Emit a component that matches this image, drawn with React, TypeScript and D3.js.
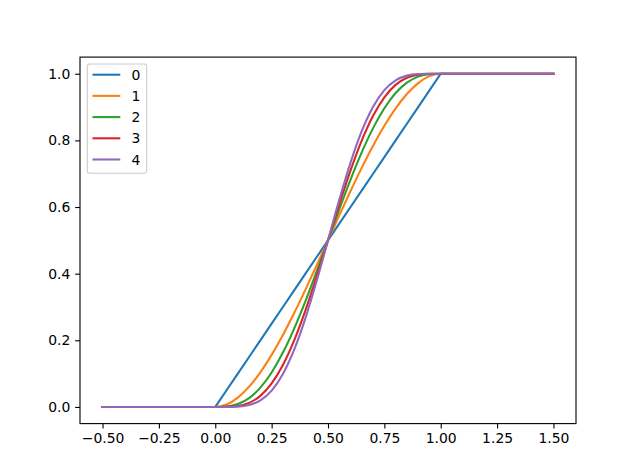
import React, { useEffect, useRef } from "react";
import * as d3 from "d3";

// sample positions along x (flat tails outside [0, 1])
const xs = [-0.5, 0, 0.05, 0.1, 0.15, 0.2, 0.25, 0.3, 0.35, 0.4, 0.45, 0.5, 0.55, 0.6, 0.65, 0.7, 0.75, 0.8, 0.85, 0.9, 0.95, 1, 1.5];

const labels = ["0", "1", "2", "3", "4"];

const s0 = [0, 0, 0.05, 0.1, 0.15, 0.2, 0.25, 0.3, 0.35, 0.4, 0.45, 0.5, 0.55, 0.6, 0.65, 0.7, 0.75, 0.8, 0.85, 0.9, 0.95, 1, 1];
const s1 = [0, 0, 0.0073, 0.028, 0.0608, 0.104, 0.1563, 0.216, 0.2818, 0.352, 0.4253, 0.5, 0.5748, 0.648, 0.7183, 0.784, 0.8438, 0.896, 0.9393, 0.972, 0.9928, 1, 1];
const s2 = [0, 0, 0.0012, 0.0086, 0.0266, 0.0579, 0.1035, 0.1631, 0.2352, 0.3174, 0.4069, 0.5, 0.5931, 0.6826, 0.7648, 0.8369, 0.8965, 0.9421, 0.9734, 0.9914, 0.9988, 1, 1];
const s3 = [0, 0, 0.0002, 0.0027, 0.0121, 0.0333, 0.0706, 0.126, 0.1998, 0.2898, 0.3917, 0.5, 0.6083, 0.7102, 0.8002, 0.874, 0.9294, 0.9667, 0.9879, 0.9973, 0.9998, 1, 1];
const s4 = [0, 0, 0.00003, 0.0009, 0.0056, 0.0196, 0.0489, 0.0988, 0.1717, 0.2666, 0.3786, 0.5, 0.6214, 0.7334, 0.8283, 0.9012, 0.9511, 0.9804, 0.9944, 0.9991, 1, 1, 1];

const series = [s0, s1, s2, s3, s4];
const colors = ["#1f77b4", "#ff7f0e", "#2ca02c", "#d62728", "#9467bd"];

const xTicks = [-0.5, -0.25, 0, 0.25, 0.5, 0.75, 1, 1.25, 1.5];
const yTicks = [0, 0.2, 0.4, 0.6, 0.8, 1.0];

export default function App() {
  const ref = useRef<SVGSVGElement | null>(null);

  useEffect(() => {
    if (!ref.current) return;
    const svg = d3.select(ref.current);
    svg.selectAll("*").remove();

    const width = 640;
    const height = 476;
    const left = 80, right = 576, top = 57.1, bottom = 423.6;

    const x = d3.scaleLinear().domain([-0.6, 1.6]).range([left, right]);
    const y = d3.scaleLinear().domain([-0.05, 1.05]).range([bottom, top]);

    svg.append("rect").attr("width", width).attr("height", height).attr("fill", "white");

    const font = "DejaVu Sans";
    const fs = 13.9;

    // lines
    series.forEach((vals, i) => {
      const pts: [number, number][] = xs.map((xv, j) => [xv, vals[j]]);
      const line = d3
        .line<[number, number]>()
        .x((d) => x(d[0]))
        .y((d) => y(d[1]))
        .curve(i === 0 ? d3.curveLinear : d3.curveMonotoneX);
      svg
        .append("path")
        .attr("d", line(pts))
        .attr("fill", "none")
        .attr("stroke", colors[i])
        .attr("stroke-width", 2.08)
        .attr("stroke-linecap", "square");
    });

    // axes
    const fmtX = (d: number) => d.toFixed(2).replace("-", "\u2212");
    const xAxis = d3
      .axisBottom(x)
      .tickValues(xTicks)
      .tickSize(4.86)
      .tickPadding(4.86)
      .tickFormat((d) => fmtX(d as number));
    const gx = svg.append("g").attr("transform", `translate(0,${bottom})`).call(xAxis);

    const yAxis = d3
      .axisLeft(y)
      .tickValues(yTicks)
      .tickSize(4.86)
      .tickPadding(4.86)
      .tickFormat((d) => (d as number).toFixed(1));
    const gy = svg.append("g").attr("transform", `translate(${left},0)`).call(yAxis);

    [gx, gy].forEach((g) => {
      g.select(".domain").remove();
      g.selectAll("line").attr("stroke", "black").attr("stroke-width", 1.11);
      g.selectAll("text")
        .attr("font-family", font)
        .attr("font-size", fs)
        .attr("fill", "black");
    });

    // frame
    svg
      .append("rect")
      .attr("x", left)
      .attr("y", top)
      .attr("width", right - left)
      .attr("height", bottom - top)
      .attr("fill", "none")
      .attr("stroke", "black")
      .attr("stroke-width", 1.11);

    // legend
    const lg = svg.append("g");
    lg.append("rect")
      .attr("x", 87.3)
      .attr("y", 64)
      .attr("width", 59.4)
      .attr("height", 109.3)
      .attr("rx", 2.5)
      .attr("fill", "white")
      .attr("fill-opacity", 0.8)
      .attr("stroke", "#cccccc")
      .attr("stroke-width", 1.11);
    labels.forEach((lab, i) => {
      const cy = 74.7 + i * 21.2;
      lg.append("line")
        .attr("x1", 92.5)
        .attr("x2", 120.3)
        .attr("y1", cy)
        .attr("y2", cy)
        .attr("stroke", colors[i])
        .attr("stroke-width", 2.08);
      lg.append("text")
        .attr("x", 131.5)
        .attr("y", cy)
        .attr("dy", "0.36em")
        .attr("font-family", font)
        .attr("font-size", fs)
        .attr("fill", "black")
        .text(lab);
    });
  }, []);

  return (
    <svg
      ref={ref}
      width={640}
      height={476}
      style={{ position: "absolute", left: 0, top: 0 }}
    />
  );
}
